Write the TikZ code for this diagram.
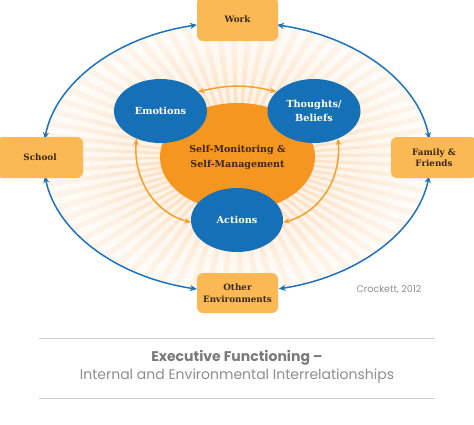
\documentclass[tikz,border=0pt]{standalone}
\usepackage{fontspec}
\usetikzlibrary{shapes.geometric,arrows.meta,calc}
\newfontfamily\slab{DejaVu Serif}
\newfontfamily\capfont{Poppins}
\definecolor{boxor}{HTML}{FBB955}
\definecolor{midor}{HTML}{F49620}
\definecolor{arrowor}{HTML}{F5A02C}
\definecolor{bluefill}{HTML}{1570B8}
\definecolor{bluearrow}{HTML}{1E74BC}
\definecolor{brown}{HTML}{3A2812}
\definecolor{capgray}{HTML}{7A7A7A}
\definecolor{capgray2}{HTML}{8E8E8E}
\definecolor{linegray}{HTML}{CFCFCF}
\definecolor{rA}{HTML}{F9CC9A}
\definecolor{rB}{HTML}{FCE0C2}
\definecolor{rC}{HTML}{FEF3E8}
\definecolor{rD}{HTML}{FFFBF7}
\definecolor{bA}{HTML}{FDE6CC}
\definecolor{bB}{HTML}{FEF4E9}
\definecolor{bC}{HTML}{FFFCF9}
\pgfdeclareradialshading{raysh}{\pgfpointorigin}{color(0bp)=(rA); color(10bp)=(rB); color(22bp)=(rC); color(50bp)=(rD)}
\pgfdeclareradialshading{backsh}{\pgfpointorigin}{color(0bp)=(bA); color(12bp)=(bB); color(25bp)=(bC); color(50bp)=(white)}
\begin{document}
\begin{tikzpicture}[x=1pt,y=1pt,
  envbox/.style={fill=boxor, rounded corners=6pt, inner sep=0pt, align=center,
    text=brown, font=\slab\bfseries\fontsize{8.8}{11.5}\selectfont},
  inell/.style={ellipse, fill=bluefill, inner sep=0pt, minimum width=93pt, minimum height=64pt,
    align=center, text=white, font=\slab\bfseries\fontsize{9.7}{14}\selectfont},
  bluearc/.style={draw=bluearrow, line width=1.5pt, {Stealth[length=7pt,width=6pt]}-{Stealth[length=7pt,width=6pt]}},
  orarc/.style={draw=arrowor, line width=1.5pt, {Stealth[length=6.5pt,width=5.5pt]}-{Stealth[length=6.5pt,width=5.5pt]}}
]
\useasboundingbox[fill=white] (0,0) rectangle (474,-424);
\coordinate (c) at (237,-157);
% sunburst
\shade[shading=backsh] (c) ellipse [x radius=194, y radius=135];
\begin{scope}
\clip (c) ellipse [x radius=194, y radius=135];
\clip \foreach \i in {0,...,71} { (c) -- +({\i*5}:330 and 240) -- +({\i*5+2.2}:330 and 240) -- cycle };
\shade[shading=raysh] (c) ellipse [x radius=194, y radius=135];
\end{scope}
% outer blue arcs
\draw[bluearc] (c) ++(101.9:194 and 135) arc[start angle=101.9, end angle=172.4, x radius=194, y radius=135];
\draw[bluearc] (c) ++(188.1:194 and 135) arc[start angle=188.1, end angle=258.1, x radius=194, y radius=135];
\draw[bluearc] (c) ++(282.4:194 and 135) arc[start angle=282.4, end angle=351.9, x radius=194, y radius=135];
\draw[bluearc] (c) ++(7.6:194 and 135) arc[start angle=7.6, end angle=78.1, x radius=194, y radius=135];
% centre
\node[ellipse, fill=midor, inner sep=0pt, minimum width=155pt, minimum height=108pt, align=center,
  text=brown, font=\slab\bfseries\fontsize{9.5}{15}\selectfont] (self) at (237.5,-157) {Self-Monitoring \&\\Self-Management};
\node[inell] (emo) at (160.5,-111) {Emotions};
\node[inell] (tho) at (314,-111) {Thoughts/\\Beliefs};
\node[inell, minimum width=92pt] (act) at (237,-220) {Actions};
% orange arrows
\draw[orarc] (emo.27) to[bend left=14] (tho.153);
\draw[orarc] (emo.229) to[out=-95, in=165] (act.183);
\draw[orarc] (tho.-49) to[out=-85, in=15] (act.-3);
% environment boxes
\node[envbox, minimum width=81pt, minimum height=44pt] (work) at (237.5,-19) {Work};
\node[envbox, minimum width=86pt, minimum height=41pt] (school) at (40,-157.5) {School};
\node[envbox, minimum width=86pt, minimum height=41pt] (fam) at (434,-157.5) {Family \&\\Friends};
\node[envbox, minimum width=81pt, minimum height=40pt] (other) at (237.5,-293) {Other\\Environments};
% credit & caption
\node[text=capgray2, font=\capfont\fontsize{9.5}{11}\selectfont, inner sep=0pt] (cred) at (389,-290) {Crockett, 2012};
\coordinate (l1a) at (39,-338); \coordinate (l1b) at (435,-338);
\coordinate (l2a) at (39,-398); \coordinate (l2b) at (435,-398);
\draw[linegray, line width=0.7pt] (l1a) -- (l1b);
\draw[linegray, line width=0.7pt] (l2a) -- (l2b);
\node[text=capgray, font=\capfont\bfseries\fontsize{14}{16}\selectfont, inner sep=0pt] (cap1) at (237,-358) {Executive Functioning –};
\node[text=capgray2, font=\capfont\fontsize{14}{16}\selectfont, inner sep=0pt] (cap2) at (237,-376) {Internal and Environmental Interrelationships};
\end{tikzpicture}
\end{document}
